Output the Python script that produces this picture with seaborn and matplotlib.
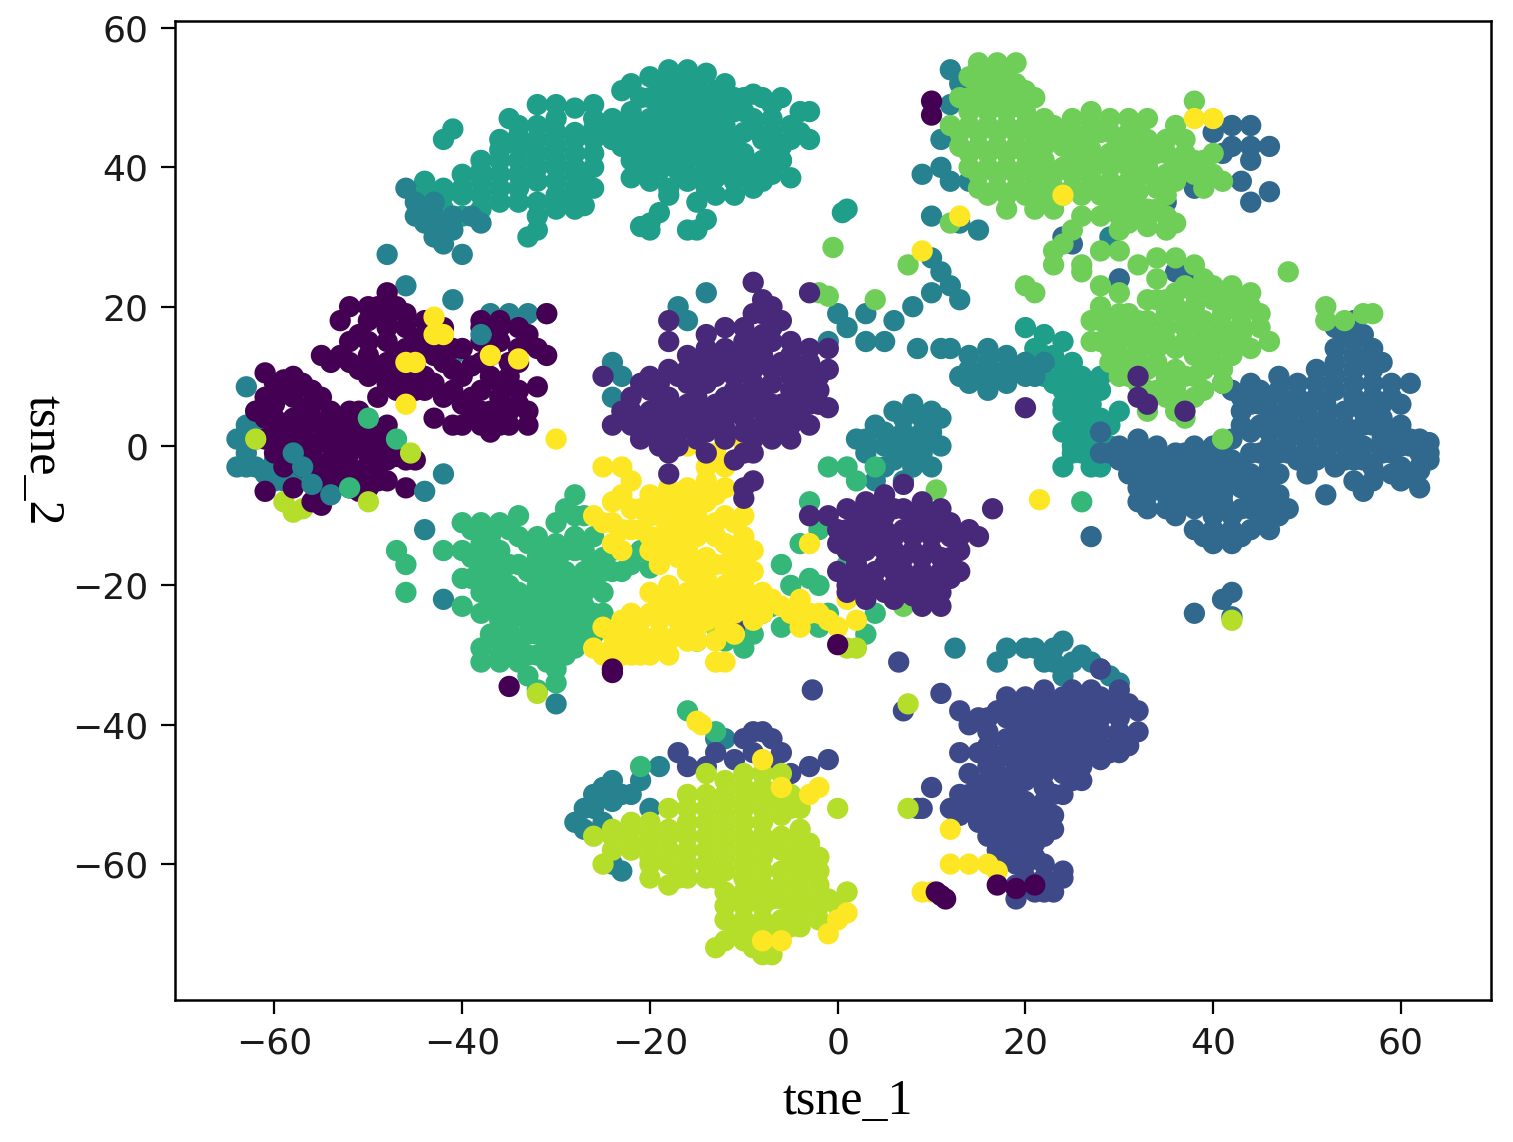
import pandas as pd
import matplotlib
matplotlib.use("Agg")
import matplotlib.pyplot as plt
import seaborn as sns

X_TICKS = [-60, -40, -20, 0, 20, 40, 60]
Y_TICKS = [-60, -40, -20, 0, 20, 40, 60]

c0 = [(-61,4),(-60,6),(-59,8),(-57,9),(-60,2),(-58,4),(-56,6),(-54,5),(-61,1),(-59,0),(-57,2),(-55,3),(-53,3),(-51,5),(-56,0),(-54,0),(-52,1),(-50,2),(-48,3),(-58,-2),(-56,-2),(-54,-2),(-52,-1),(-50,-1),(-48,0),(-46,-2),(-55,-4),(-53,-4),(-51,-4),(-49,-3),(-47,-1.5),(-54,-6),(-50,-6),(-48,-5),(-52,-6),(-45,-2),(-58,-6),(-61,-6.5),(-56,-8),(-55,-8.5),(-46,-6),(-57,1),(-60,-1),(-59,9.5),(-61,10.5),(-56,8),(-52,5),
      (-52,20),(-49,20),(-48,22),(-50,18),(-53,18),(-48,18),(-46,17),(-44,16),(-51,16),(-48,15),(-46,14),(-44,14),(-42,15),(-50,13),(-52,12),(-55,13),(-54,12),(-48,12),(-46,11),(-44,10),(-42,12),(-40,14),(-38,17),(-36,18),(-38,18),(-36,15),(-34,14),(-32,14),(-31,13),(-34,12),(-38,12),(-40,10),(-38,8),(-36,7),(-36,9),(-34,8),(-35,5),(-38,5),(-40,6),(-42,7),(-41,3),(-38,3),(-37,2),(-47,8),(-48,9),(-50,10),(-49,7),(-45,8),(-44,8),(-33,5),(-32,8.5),(-31,19),
      (-60,7),(-58,7),(-56,4),(-54,3),(-59,3),(-57,5),(-55,1),(-53,1),(-58,1),(-56,-1),(-54,-3),(-52,-3),(-50,-2.5),(-48,-2),(-57,-3),(-59,-3),(-60,4),(-62,5),(-51,1),(-49,1),(-53,-5.5),(-51,-6.5),(-49,-5),(-60,9),(-58,10),(-55,7),(-53,-1),(-55,-6),(-52,3),(-61,7),
      (-50,15),(-48,17),(-46,19),(-44,18),(-42,17),(-47,13),(-45,12),(-43,13),(-41,14),(-49,11),(-47,10),(-43,9),(-41,11),(-45,15),(-39,11.5),(-37,10),(-35,10),(-37,13),(-35,12),(-39,7),(-37,5),(-35,3),(-33,3),(-39,5),(-36,3),(-34,6),(-41,8),(-46,9),(-43,4),(-40,3),(-33,16),(-36,17),(-34,17),(-38,15),(-52,15),(-50,20),(-47,20),(-53,13),(-51,11)]
c1 = [(-21,9),(-22,7),(-23,5),(-24,3),(-22,3),(-20,5),(-18,7),(-20,10),(-18,11),(-16,9),(-14,12),(-16,13),(-14,14),(-12,14),(-10,15),(-8,16),(-9,19),(-8,21),(-9,23.5),(-7,17),(-6,18),(-5,15),(-3,14),(-1,14),(-1,11),(-2,8),(-3,6),(-4,11),(-6,12),(-8,13),(-10,12),(-12,11),(-14,9),(-16,6),(-18,4),(-20,2),(-21,1),(-19,0),(-17,2),(-15,4),(-13,6),(-11,8),(-9,9),(-7,9),(-5,8),(-4,5),(-2,6),(-1,5.5),(-7,6),(-9,6),(-11,5),(-13,3),(-15,1),(-17,0),(-12,1),(-10,2),(-8,3),(-6,3),(-10,-1),(-9,-1),(-7,1),(-14,-1),(-5,1),(-18,-1),(-25,10),(-18,18),(-12,17),(-14,16),(-3,22),(-3,9),(-18,15),(-10,-6),(-10,-7.5),(-9,-5),(-18,-4),
      (-19,9),(-17,10),(-15,11),(-13,13),(-11,13),(-9,14),(-7,15),(-5,13),(-3,12),(-2,10),(-5,10),(-7,11),(-9,11),(-11,10),(-13,10),(-15,7),(-17,5),(-19,3),(-21,4),(-19,6),(-16,3),(-14,5),(-12,7),(-10,7),(-8,8),(-6,6),(-4,7),(-12,4),(-10,4),(-8,5),(-6,5),(-14,2),(-12,2.5),(-9,1),(-7,3),(-18,2),(-20,8),(-22,5),(-16,11),(-10,17),(-8,19),(-7,20),(-11,-2),(-5,3),(-3,3),
      (-3,-10),(-1,-10),(1,-9),(3,-8),(5,-7),(5,-10),(7,-9),(9,-8),(11,-9),(12,-11),(13,-13),(14,-12),(11,-12),(9,-12),(7,-12),(5,-12),(3,-11),(1,-12),(0,-14),(0,-18),(2,-16),(4,-14),(6,-15),(8,-15),(10,-15),(12,-16),(13,-18),(11,-18),(9,-18),(7,-18),(5,-17),(3,-19),(1,-20),(1,-21),(3,-22),(5,-21),(7,-21),(9,-20),(11,-21),(9,-23),(11,-23),(6,-22),(16.5,-9),(15,-13),(2,-19),(7,-5.5),(20,5.5),(32,7),(33,6),(37,5),(32,10),
      (2,-10),(4,-9),(6,-9),(8,-10),(10,-10),(12,-13),(10,-13),(8,-13),(6,-13),(4,-12),(2,-13),(0,-12),(3,-15),(1,-15),(5,-15),(7,-16),(9,-16),(11,-16),(13,-15),(4,-18),(6,-18),(8,-19),(10,-19),(12,-19),(2,-20),(4,-20),(6,-20),(8,-21.5),(10,-22),(2,-17)]
c2 = [(13,-38),(15,-39),(16,-41),(18,-36),(20,-36),(22,-35),(25,-35),(28,-32),(30,-35),(17,-38),(19,-40),(21,-38),(23,-37),(26,-37),(28,-36),(31,-37),(32,-38),(30,-39),(27,-39),(25,-40),(23,-40),(20,-42),(18,-42),(15,-44),(17,-45),(20,-45),(22,-44),(25,-43),(27,-42),(30,-41),(30,-44),(28,-45),(26,-46),(23,-46),(20,-48),(18,-48),(15,-49),(13,-50),(12,-52),(14,-52),(16,-51),(19,-50),(22,-49),(25,-48),(15,-54),(17,-53),(19,-53),(21,-52),(23,-50),(16,-56),(18,-56),(20,-55),(22,-53),(17,-58),(19,-58),(21,-57),(20,-60),(22,-60),(24,-62),(19,-63),(21,-64),(19,-65),(22,-62),(23,-55),(11,-35.5),(13,-44),(8.5,-52),(9,-52),(7,-38),(6.5,-31),(10,-49),(-1,-45),(-3,-46),
      (14,-40),(16,-39),(18,-39),(20,-38),(22,-37),(24,-36),(27,-35),(29,-37),(24,-39),(26,-39),(28,-39),(22,-39),(16,-43),(18,-44),(21,-42),(23,-42),(26,-41),(28,-41),(30,-42),(29,-44),(27,-44),(24,-44),(21,-45),(19,-46),(17,-47),(14,-47),(16,-48),(21,-47),(24,-47),(26,-48),(14,-50),(17,-50),(20,-51),(22,-51),(24,-50),(13,-53),(15,-52),(18,-52),(17,-55),(19,-55),(21,-54),(23,-53),(18,-57),(20,-57),(22,-56),(21,-59),(19,-60),(18,-59),(20,-62),(22,-64),(24,-61),(23,-64),(17,-52),(31,-43),(32,-41),
      (19,-37),(21,-40),(24,-41),(26,-43),(22,-47),(19,-48),(16,-46),(28,-43),(25,-38),(27,-37),(20,-44),(23,-44),(19,-43),(22,-42),(25,-45),(18,-50),(20,-53),(16,-53),(18,-54),(20,-58),
      (-13,-44),(-10,-42),(-8,-41),(-7,-42),(-9,-44),(-6,-44),(-11,-45),(-7,-46),(-5,-47),(-17,-44),(-16,-46),(-9,-41),(-14,-46),(-2.7,-35),(-11,-26)]
c3 = [(28,2),(30,0),(32,1),(34,0),(36,-1),(38,0),(40,0),(30,-2),(32,-3),(34,-3),(36,-4),(38,-3),(40,-3),(42,-2),(32,-6),(34,-6),(36,-7),(38,-6),(40,-6),(42,-5),(44,-4),(46,-6),(32,-8),(35,-9),(38,-9),(41,-8),(44,-7),(46,-8),(48,-9),(45,-10),(42,-10),(40,-12),(38,-12),(40,-14),(42,-14),(44,-12),(46,-12),(34,-4),(28,-1),(27,-13),
      (31,-1),(33,-1),(35,-2),(37,-2),(39,-1),(41,-1),(31,-4),(33,-5),(35,-5),(37,-5),(39,-5),(41,-4),(43,-3),(33,-7),(35,-7),(37,-8),(39,-8),(41,-7),(43,-6),(45,-5),(47,-7),(43,-9),(45,-8),(33,-9),(36,-10),(40,-10),(42,-12),(44,-9),(47,-10),(39,-13),(41,-13),(43,-13),(37,-1),(29,-1),
      (42,8),(44,9),(46,7),(48,6),(50,5),(52,6),(54,5),(56,5),(58,6),(60,6),(61,9),(59,9),(57,11),(55,13),(53,14),(55,15),(57,14),(55,18),(53,17),(51,11),(49,9),(47,10),(45,6),(43,5),(45,3),(47,3),(49,2),(51,3),(53,2),(55,2),(57,3),(59,2),(61,0),(63,-1),(62,-3),(60,-3),(58,-1),(56,-2),(54,0),(52,-1),(50,0),(48,1),(46,0),(44,2),(42,1),(57,-3),(60,-5),(62,-6),(55,-5),(47,-4),(45,-1),(41,9),(50,-4),(60,0),(62,1),(63,-2),(59,-4),(57,7),(55,9),(53,10),(52,-7),(56,-6.5),
      (44,6),(46,5),(48,4),(50,3),(52,4),(54,3),(56,3),(58,4),(60,3),(49,7),(51,7),(53,8),(55,7),(59,7),(47,8),(45,8),(43,7),(51,9),(49,6),(53,12),(55,11),(57,9),(54,16),(56,16),(58,12),(56,12),(46,2),(48,-1),(50,2),(52,1),(54,-2),(56,0),(58,1),(60,2),(62,-1),(61,-4),(59,-1),(57,-5),(55,-2),(53,-3),(51,-2),(49,-2),(47,-1),(46,-3),(44,-1),(43,3),(62,-3.5),(61,1),(63,0.5),
      (38,-24),(41,-22),(42,-21),(42,-24.5),(35,35),(38,37),(40,45),(42,46),(44,46),(42,43),(44,43),(46,43),(44,41),(41,42),(43,38),(44,35),(46,36.5),(30,24),(38,25),(36,25),(21,36),(23,36),(24,30),(25,29)]
c4 = [(-46,37),(-45,35),(-44,34),(-44,32),(-43,30),(-42,29),(-41,31),(-43,35),(-41,33),(-39,33),(-40,27.5),(-38,32),(-48,27.5),(-46,23),(-41,21),(-37,19),(-35,19),(-33,19),(-41,13),(-42,-4),(-44,-12),(-42,-22),
      (-63,1),(-64,-3),(-63,-1),(-62,3),(-63,3),(-62,5),(-62,-3),(-60,-5),(-60,-4),(-58,-2),(-58,-5),(-63,8.5),(-60,2),(-62,1),(-64,1),(-63,-3),(-60,-2),(-61,-4),(-59,-5),
      (2,1),(4,3),(6,5),(8,6),(10,5),(11,4),(3,-1),(5,0),(7,2),(9,2),(5,-3),(7,-1),(9,-1),(11,0),(7,-5),(4,-5),(10,-3),(5,2),(7,4),(9,4),(3,1),(6,1),(8,0),(10,1),(6,-2),(8,-3),(10,2),
      (-27,-52),(-26,-50),(-24,-48),(-24,-51),(-22,-50),(-21,-48),(-20,-52),(-28,-54),(-27,-55),(-25,-54),(-24,-60),(-23,-61),(-19,-46),(-13,-42),(-26,-52),(-23,-50),(-25,-49),(-12,-42),
      (12,54),(13,52),(15,54),(12,49),(11,44),(11,40),(12,38),(14,38),(9,39),(10,33),(13,32),(15,31),(10,27),(11,25),(10,22),(13,21),(12,23),(-45,33),(-42,32),(-43,33),
      (12,14),(14,11),(16,14),(18,13),(20,12),(22,12),(13,10),(16,8),(14,9),(18,9),(20,10),(8.5,14),(11,14),(29,30),(16,12),(14,13),(18,11),(15,10),(17,10),(19,11),(21,10),
      (20,-29),(22,-31),(24,-28),(26,-30),(28,-32),(24,-33),(30,-34),(18,-29),(17,-31),(12.5,-29),(23,-29),(25,-31),(27,-31),(21,-29),(29,-33),(23,-31),
      (6,18),(8,20),(3,19),(1,17),(-1,15),(-17,20),(-14,22),(-16,18),(-24,12),(-23,10),(-24,7),(3,15),(5,15),(0,19),(-30,-37)]
c5 = [(-42,44),(-41,45.5),(-44,36),(-42,37),(-40,36),(-38,38),(-36,37),(-34,39),(-32,38),(-30,40),(-42,34),(-40,33),(-38,34),(-36,35),(-34,35),(-32,35),(-30,36),(-28,37),(-40,39),(-38,41),(-36,41),(-34,43),(-32,42),(-30,43),(-28,42),(-36,44),(-34,46),(-32,46),(-30,47),(-35,47),(-32,49),(-30,45),(-28,45),(-26,44),(-26,47),(-28,48.5),(-30,49),(-26,49),(-25,46),(-24,44),(-30,34),(-32,33),(-28,34),(-32,31),(-33,30),(-27,34.5),(-28,39),(-26,40),(-28,36),(-26,37),
      (-40,37),(-38,36),(-36,39),(-34,37),(-32,40),(-30,38),(-38,39.5),(-36,42.5),(-34,41),(-32,44),(-30,41),(-28,44),(-28,40),(-26,42),(-34,44.5),(-27,38),(-29,35),(-24,46),(-26,45.5),(-42,36),(-44,38),
      (-23,51),(-22,52),(-20,53),(-18,54),(-16,54),(-14,53.5),(-12,52),(-20,50),(-18,51),(-16,51),(-14,50),(-12,49),(-10,48),(-8,50),(-6,50),(-9,50.5),(-7,47),(-5,46),(-4,48),(-3,48),(-3,44),(-24,47),(-22,48),(-20,47),(-18,48),(-16,47),(-14,47),(-12,46),(-10,45),(-8,44),(-6,43),(-24,44),(-22,44),(-20,44),(-18,45),(-16,44),(-14,43),(-12,43),(-10,42),(-8,41),(-6,41),(-22,41),(-20,41),(-18,41),(-16,41),(-14,40),(-12,40),(-10,39),(-8,38),(-7,39),(-22,38.5),(-20,38),(-18,37),(-16,38),(-14,37),(-15,35),(-13,36),(-11,36),(-20,32),(-19,33.5),(-20,31),(-21,31.5),(-15,31),(-14,32.5),(-16,31),(-5,38.5),(0.5,33.5),(1,34),
      (-21,50),(-19,52),(-17,52),(-15,52),(-13,51),(-19,49),(-17,49),(-15,49),(-13,48),(-11,48),(-9,47),(-7,49),(-23,46),(-21,46),(-19,46),(-17,46),(-15,45),(-13,45),(-11,44),(-9,46),(-7,45),(-5,44),(-23,43),(-21,43),(-19,43),(-17,43),(-15,42),(-13,42),(-11,41),(-9,40),(-7,42),(-21,39.5),(-19,39.5),(-17,39.5),(-15,38.5),(-13,38.5),(-11,38),(-9,37),(-18,36),(-6,41),(-10,50),(-11,50),(-4,45),
      (20,17),(22,16),(24,15),(20,12),(22,13),(24,11),(22,10),(24,8),(26,8),(24,5),(26,5),(28,4),(24,2),(26,2),(28,8),(26,-1),(27,-3),(24,-3),(28,-3),(25,-1),(28,1),(30,5),(26,10),(28,10),(33,-4),
      (21,14),(23,13),(25,9),(23,9),(25,7),(27,6),(25,3),(27,4),(29,3),(25,0),(27,1),(29,0),(27,8),(25,12),(24,6)]
c6 = [(-47,-15),(-46,-17),(-46,-21),(-42,-15),(-40,-11),(-38,-11),(-36,-11),(-40,-15),(-38,-14),(-36,-15),(-34,-13),(-34,-10),(-32,-13),(-30,-14),(-28,-10),(-28,-13),(-26,-13),(-24,-15),(-22,-17),(-24,-18),(-26,-17),(-28,-15),(-30,-17),(-32,-16),(-34,-17),(-36,-18),(-38,-18),(-40,-19),(-38,-21),(-36,-22),(-34,-21),(-32,-20),(-30,-20),(-28,-19),(-26,-20),(-28,-22),(-30,-23),(-32,-23),(-34,-24),(-36,-25),(-38,-24),(-40,-23),(-36,-28),(-34,-28),(-32,-27),(-30,-26),(-28,-25),(-26,-24),(-26,-27),(-28,-28),(-30,-29),(-32,-30),(-34,-31),(-36,-31),(-38,-31),(-38,-29),(-33,-33),(-30,-32),(-30,-34),(-32,-35),(-28,-29),(-25,-21),(-28,-7),(-21,-15),
      (-39,-12),(-37,-13),(-35,-12),(-33,-14),(-31,-15),(-29,-15),(-27,-15),(-25,-16),(-39,-16),(-37,-16),(-35,-17),(-33,-18),(-31,-18),(-29,-18),(-27,-18),(-25,-18),(-23,-18),(-39,-19),(-37,-20),(-35,-20),(-33,-22),(-31,-21),(-29,-21),(-27,-21),(-37,-23),(-35,-23),(-33,-25),(-31,-25),(-29,-24),(-27,-23),(-25,-24),(-35,-26),(-33,-27),(-31,-28),(-29,-27),(-27,-26),(-37,-27),(-35,-29),(-33,-30),(-31,-31),(-29,-30),(-27,-28),(-36,-30),(-28,-13),(-30,-11),(-29,-9),(-27,-10),
      (-1,-3),(1,-3),(2,-5),(4,-3),(-3,-8),(-2,-12),(-4,-14),(-6,-17),(-5,-20),(-3,-19),(1,-14),(2,-13),(1,-17),(-1,-24),(-2,-26),(-8,-24),(-9,-27),(-10,-29),(-15,-28),(-12,-28),(-2,-20),(4,-24),(3,-27),(-6,-26),(-7,-23),(-20,-17.5),(26,-8),(-21,-46),(-13,-41),(-22,4),(-16,-38)]
c7 = [(15,55),(17,55),(19,55),(15,52),(17,52),(19,52),(13,50),(15,49),(17,49),(19,49),(21,50),(12,46),(14,46),(16,46),(18,46),(20,46),(22,47),(13,43),(15,43),(17,43),(19,43),(21,44),(23,45),(25,47),(27,48),(29,47),(31,47),(33,47),(24,43),(26,44),(28,45),(30,44),(32,45),(35,44),(37,44),(26,41),(28,41),(30,41),(32,42),(34,42),(36,41),(38,41),(40,42),(14,40),(16,40),(18,40),(20,40),(22,41),(24,40),(36,38),(38,39),(40,39),(39,37),(15,37),(17,37),(19,37),(21,38),(23,37),(25,37),(27,38),(29,38),(31,38),(33,39),(18,34),(21,34),(23,34),(29,35),(31,35),(33,34),(35,36),(31,32),(33,33),(35,33),(36,32),(26,33),(25,31),(28,33),(38,49.5),(36,46),(41,38),(12,32),(24,29),(23,28),(21,22),(23,26),(26,26),(28,28),(30,28),(32,26),(34,27),(36,27),(38,26),
      (14,53),(16,53),(18,53),(14,50),(16,51),(18,50),(20,51),(14,48),(16,48),(18,48),(20,48),(13,45),(15,45),(17,45),(19,45),(21,45),(14,42),(16,42),(18,42),(20,42),(22,43),(23,46),(25,45),(27,46),(29,45),(31,45),(33,44),(25,42),(27,42.5),(29,42),(31,43),(33,43),(35,42),(37,42),(39,41),(15,39),(17,39),(19,39),(21,39.5),(23,39),(25,39),(27,39.5),(29,40),(31,40),(33,40),(35,39),(37,39.5),(39,40),(34,37),(32,36.5),(30,37),(28,36),(26,36),(24,36),(22,36),(20,36),(18,36),(16,36),(30,33),(32,34),(34,34),(30,31),(33,31.5),(35,31),(31,36),
      (20,23),(26,25),(28,23),(30,22),(34,24),(36,22),(38,22),(40,23),(42,23),(44,22),(33,21),(35,19),(37,18),(39,18),(41,19),(43,19),(45,19),(28,20),(30,19),(27,18),(29,17),(31,16),(33,16),(35,15),(37,15),(39,16),(41,15),(43,16),(44,14),(28,15),(30,13),(32,13),(34,12),(36,11),(38,10),(40,12),(42,13),(43,15),(30,10),(32,9),(34,8),(36,8),(38,7),(41,9),(33,5),(36,5),(37,4),(48,25),(45,17),(52,20),(54,18),(56,19),(57,19),(52,18),(41,1),(46,15),
      (34,21),(36,20),(38,20),(40,21),(42,21),(44,20),(30,17),(32,14),(34,14),(36,14),(38,13),(40,14),(42,15),(31,19),(33,18),(35,17),(37,17),(39,17),(41,17),(43,17.5),(29,14),(31,12),(33,11),(35,10),(37,10),(39,11),(41,11),(27,15),(29,12),(31,10),(33,8),(35,7),(37,6),(39,8),(28,18),(30,15),(32,18),(35,21),(38,14),(37,23),(39,24),(41,22),(43,21),
      (-2,22),(4,21),(-0.5,28.5),(7.5,26),(7,-23),(-1,21.5),(10.5,-6.3),(-31,19)]
c8 = [(-26,-56),(-24,-56),(-22,-55),(-20,-54),(-18,-52),(-16,-50),(-14,-47),(-12,-48),(-10,-47),(-8,-47),(-6,-47),(-5,-50),(-4,-52),(-22,-58),(-20,-57),(-18,-56),(-16,-54),(-14,-52),(-12,-51),(-10,-51),(-8,-50),(-6,-53),(-4,-55),(-18,-59),(-16,-58),(-14,-56),(-12,-55),(-10,-54),(-8,-54),(-6,-56),(-3,-57),(-2,-59),(-20,-62),(-18,-63),(-14,-60),(-12,-59),(-10,-58),(-8,-57),(-5,-60),(-3,-61),(-13,-62),(-10,-62),(-8,-61),(-6,-63),(-4,-64),(-2,-63),(-11,-65),(-9,-65),(-7,-65),(-5,-67),(-3,-66),(-1,-65),(0,-66),(-12,-68),(-10,-68),(-8,-68),(-6,-70),(-4,-69),(-2,-68),(1,-64),(-13,-72),(-11,-70),(-9,-72),(-8,-73),(-7,-71),(-12,-71),(-25,-60),(-17,-62),
      (-24,-55),(-22,-57),(-20,-56),(-18,-55),(-16,-52),(-14,-50),(-12,-50),(-10,-49),(-8,-49),(-6,-49),(-5,-52),(-20,-59),(-18,-58),(-16,-56),(-14,-54),(-12,-53),(-10,-52),(-8,-52),(-6,-51),(-4,-57),(-16,-60),(-14,-58),(-12,-57),(-10,-56),(-8,-56),(-6,-58),(-4,-59),(-2,-61),(-12,-61),(-10,-60),(-8,-59),(-6,-61),(-4,-62),(-12,-64),(-10,-64),(-8,-63),(-6,-65),(-4,-66),(-2,-65),(-12,-66),(-10,-66),(-8,-66),(-6,-68),(-4,-67),(-2,-66),(-11,-69),(-9,-70),(-7,-69),(-5,-69),(-10,-71),(-7,-73),(-22,-54),(-18,-60),(-14,-62),(-16,-62),(-24,-58),(-20,-60),
      (-59,-8),(-57,-9),(-58,-9.5),(-32,-35.5),(1,-29),(2,-29),(7.5,-52),(7.5,-37),(42,-25),(0,-52),(-13,-26)]
c9 = [(-13,-1),(-12,1),(-16,0),(-15,1.5),(-10,0.5),(-14,-3),(-12,-3),(-14,-5),(-12,-6),(-16,-6),(-18,-6),(-20,-7),(-22,-5),(-25,-3),(-23,-3),(-24,-8),(-22,-9),(-20,-10),(-18,-9),(-16,-9),(-14,-8),(-12,-10),(-10,-10),(-26,-10),(-24,-11),(-22,-12),(-20,-13),(-18,-12),(-16,-12),(-14,-12),(-12,-14),(-10,-13),(-9,-15),(-24,-14),(-20,-15),(-18,-15),(-16,-15),(-14,-16),(-12,-17),(-10,-17),(-16,-18),(-14,-19),(-12,-20),(-10,-20),(-20,-21),(-18,-20),(-16,-21),(-14,-22),(-12,-23),(-10,-23),(-8,-21),(-22,-24),(-20,-24),(-18,-24),(-16,-24),(-14,-25),(-12,-26),(-8,-24),(-6,-23),(-4,-22),(-25,-26),(-23,-26),(-21,-27),(-19,-27),(-17,-27),(-15,-28),(-13,-28),(-11,-27),(-9,-25),(-26,-29),(-24,-29),(-22,-30),(-20,-30),(-18,-30),(-24,-32),(-13,-31),(-12,-31),(-2,-24),(0,-26),(2,-25),(-4,-26),(1,-22),(-3,-14),
      (-23,-7),(-21,-9),(-19,-10),(-17,-10),(-15,-10),(-13,-11),(-11,-11),(-25,-11),(-23,-12),(-21,-12),(-19,-13),(-17,-13),(-15,-13),(-13,-13),(-11,-15),(-23,-15),(-19,-17),(-17,-16),(-15,-17),(-13,-17),(-11,-18),(-9,-18),(-15,-20),(-13,-21),(-11,-21),(-9,-22),(-19,-22),(-17,-22),(-15,-23),(-13,-24),(-11,-24),(-23,-25),(-21,-25),(-19,-25),(-17,-25),(-15,-26),(-24,-27),(-22,-28),(-20,-28),(-18,-28),(-16,-28),(-25,-30),(-23,-30),(-21,-30),(-19,-29),(-7,-22),(-5,-24),(-3,-24),(-1,-25),(-15,-7),(-13,-7),(-17,-7),(-19,-8),
      (-30,1),(21.5,-7.7),(-14.5,-40),(-15,-39.5),(-8,-45),(-6,-49),(-3,-50),(-2,-49),(0,-68),(1,-67),(-1,-70),(-8,-71),(-6,-71),(12,-55),(12,-60),(14,-60),(16,-60),(17,-61),(9,-64),(10,-64),(24,36),(38,47),(40,47),(13,33),(9,28)]
dark_strays = [(-35,-34.5),(-24,-32.5),(0,-28.5),(11.5,-65),(10.5,-64),(17,-63),(19,-63.5),(21,-63),(11,-64.5),(-24,-32),(10,49.5),(10,47.5)]
teal_over_dark = [(-56,-5.5),(-54,-7),(-58,-1),(-57,-3),(-44,-6.5),(-38,16)]
green_over_dark = [(-47,1),(-50,4),(-52,-6)]
lime_over_dark = [(-62,1),(-50,-8),(-45.5,-1)]
yellow_over_dark = [(-43,18.5),(-43,16),(-42,16),(-37,13),(-34,12.5),(-46,6),(-46,12),(-45,12)]

DRAW_ORDER = [(5, c5), (4, c4), (3, c3), (6, c6), (7, c7), (2, c2), (8, c8), (9, c9), (1, c1), (0, c0),
              (0, dark_strays), (4, teal_over_dark), (6, green_over_dark), (8, lime_over_dark), (9, yellow_over_dark)]

rows = [(x, y, lab) for lab, pts in DRAW_ORDER for x, y in pts]
df = pd.DataFrame(rows, columns=["tsne_1", "tsne_2", "label"])

sns.set_style("white")
fig = plt.figure(figsize=(15.13, 11.42), dpi=100)
ax = fig.add_axes([175/1513, 1-1000/1142, (1491-175)/1513, (1000-21)/1142])
sns.scatterplot(data=df, x="tsne_1", y="tsne_2", hue="label", palette="viridis",
                hue_norm=(0, 9), s=235, linewidth=0, legend=False, ax=ax)
ax.set_xlim(-70.6, 69.6)
ax.set_ylim(-79.5, 61)
ax.set_xticks(X_TICKS)
ax.set_yticks(Y_TICKS)
ax.tick_params(axis="both", length=10, width=1.6, labelsize=26, color="#000000",
               labelcolor="#1a1a1a", pad=9, left=True, bottom=True)
for sp in ax.spines.values():
    sp.set_visible(True)
    sp.set_linewidth(1.8)
    sp.set_color("#000000")
ax.set_xlabel("tsne_1", fontfamily="Liberation Serif", fontsize=36, color="#000000",
              ha="center", va="center")
ax.xaxis.set_label_coords(0.511, -0.104)
ax.set_ylabel("tsne_2", fontfamily="Liberation Serif", fontsize=36, color="#000000",
              rotation=270, ha="center", va="center")
ax.yaxis.set_label_coords(-0.101, 0.5516)
fig.savefig("out.png", dpi=100)
